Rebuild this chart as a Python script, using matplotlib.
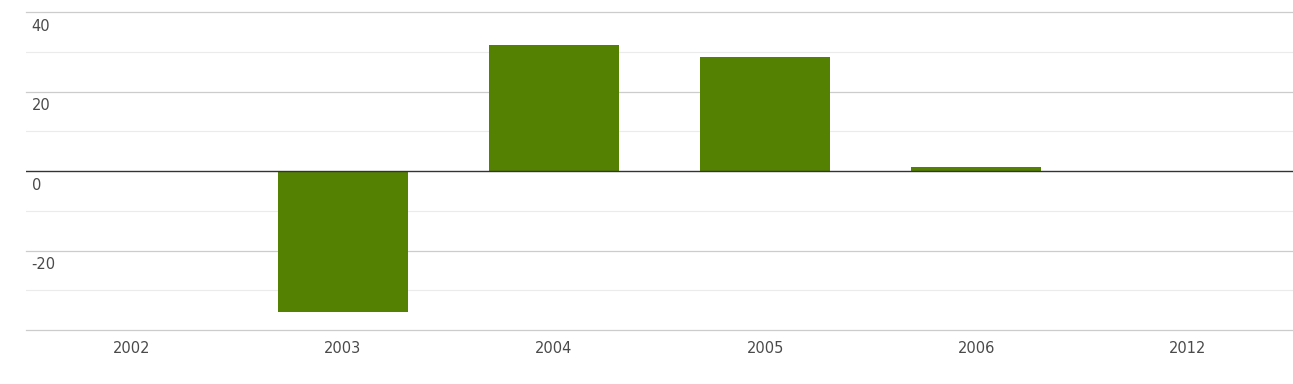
import matplotlib
matplotlib.use("Agg")
import matplotlib.pyplot as plt
import numpy as np

categories = ["2002", "2003", "2004", "2005", "2006", "2012"]
values = [0, -35.4, 31.6, 28.8, 0.9, 0]
y_ticks = [-20, 0, 20, 40]
y_major = [-40, -20, 0, 20, 40]
y_minor = [-30, -10, 10, 30]

fig = plt.figure(figsize=(12.93, 3.84), dpi=100)
ax = fig.add_axes([26/1293, 1 - 330/384, 1 - 26/1293, 318/384])

x = np.arange(len(categories))
ax.set_xlim(-0.5, len(categories) - 0.5)
ax.set_ylim(-40, 40)

for v in y_minor:
    ax.axhline(v, color="#ebebeb", lw=0.8, zorder=0)
for v in y_major:
    if v != 0:
        ax.axhline(v, color="#cccccc", lw=0.9, zorder=0, clip_on=False)

ax.bar(x, values, width=0.615, color="#548101", zorder=2)
ax.axhline(0, color="#333333", lw=1.0, zorder=3)

for v in y_ticks:
    ax.annotate(str(v), xy=(0, v), xycoords=ax.get_yaxis_transform(),
                xytext=(4, -5), textcoords="offset points",
                ha="left", va="top", fontsize=10.5, color="#4a4a4a")

ax.set_xticks(x)
ax.set_xticklabels(categories, fontsize=10.5, color="#4a4a4a")
ax.tick_params(axis="x", length=0, pad=8)
ax.set_yticks([])
for s in ax.spines.values():
    s.set_visible(False)

fig.savefig("out.png", dpi=100)
